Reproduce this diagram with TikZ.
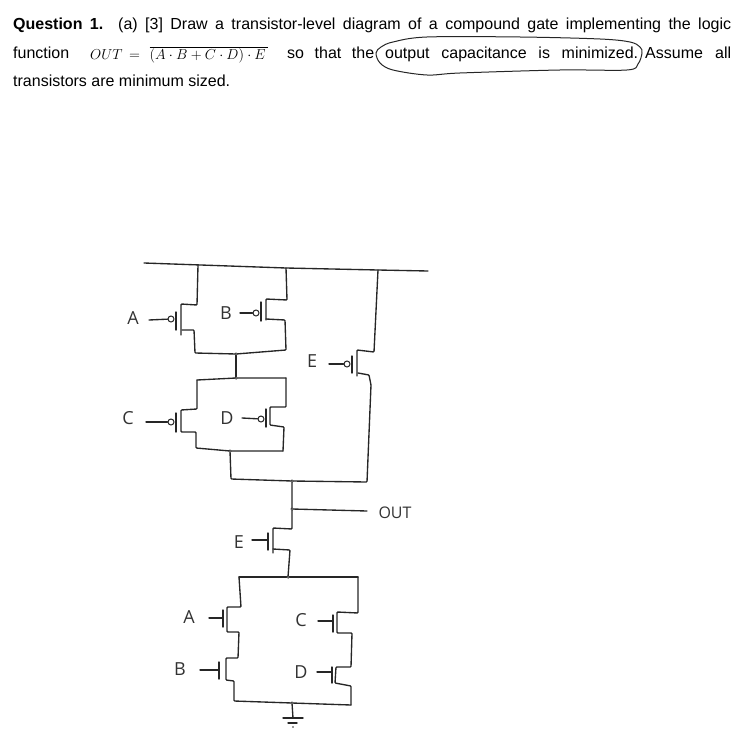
\documentclass[tikz,border=0pt]{standalone}
\usepackage{fontspec}
\setmainfont{Liberation Sans}
\setsansfont{Open Sans}
\usetikzlibrary{calc}
\tikzset{
  wire/.style={draw=black!85,line width=1.35pt,line join=round,line cap=round,rounded corners=0.8pt},
  dotnode/.style={circle,draw=black!80,fill=white,line width=0.7pt,inner sep=0pt,minimum size=3pt},
  bubble/.style={circle,draw=black!85,line width=1pt,inner sep=0pt,minimum size=6pt},
  qtext/.style={inner sep=0pt,anchor=base west,font=\fontsize{16}{18}\selectfont,text=black},
  hand/.style={inner sep=0pt,anchor=center,font=\sffamily\fontsize{18}{18}\selectfont,text=black!80}
}
\newcommand{\ptxt}[1]{\makebox[718pt][s]{#1}}
\begin{document}
\begin{tikzpicture}[x=1pt,y=-1pt]
\useasboundingbox (0,0) rectangle (737,754);
% question text
\node[qtext] (l1) at (13,30) {\ptxt{\textbf{Question 1.} (a) [3] Draw a transistor-level diagram of a compound gate implementing the logic}};
\node[qtext] (l2a) at (13,59) {function};
\node[qtext,font=\fontsize{15}{18}\selectfont] (l2b) at (90,59.5) {$OUT$};
\node[qtext,font=\fontsize{15}{18}\selectfont] (l2c) at (129,59.5) {$=$};
\node[qtext,font=\fontsize{15}{18}\selectfont] (l2d) at (149.5,59.5) {$\overline{\hbox to 118pt{$(A\cdot B+C\cdot D)\cdot E$\hss}}$};
\node[qtext] (l2e) at (287,59) {\makebox[87pt][s]{so that the}};
\node[qtext] (l2f) at (385,59) {\makebox[253pt][s]{output capacitance is minimized.}};
\node[qtext] (l2g) at (645,59) {\makebox[86pt][s]{Assume all}};
\node[qtext] (l3) at (13,87) {transistors are minimum sized.};
% circled remark
\draw[draw=black!85,line width=1pt] plot[smooth cycle,tension=0.55] coordinates {(376,53) (381,47) (393,42) (427,37) (520,37) (600,39) (630,42) (640,47) (642,53) (638,64) (627,70) (560,70) (460,73) (427,75) (393,70) (380,63)};

% junctions
\coordinate (railL) at (144,263);
\coordinate (railR) at (428,271);
\coordinate (jA) at (198,265);
\coordinate (jB) at (286,268);
\coordinate (jE) at (378,270);
\coordinate (n1) at (236,354);
\coordinate (n2) at (236,378);
\coordinate (n3) at (230,451);
\coordinate (n4) at (292,481);
\coordinate (nOut) at (292,509);
\coordinate (outEnd) at (367,511);
\coordinate (n5) at (288,577);
\coordinate (gnd) at (292,703);
\coordinate (gndEnd) at (293,718);

% power rail
\draw[wire] (railL) -- (jB) -- (jE) -- (railR);
% A pull-up
\draw[wire] (jA) -- (197,305) -- (181,304) -- (181,335);
\draw[wire] (182,330) -- (194,330) -- (195,353) -- (n1);
\draw[wire] (176,312) -- (176,330);
% B pull-up
\draw[wire] (jB) -- (287,300) -- (266,299) -- (266,320);
\draw[wire] (266,319) -- (285,320) -- (286,350) -- (n1);
\draw[wire] (261,302) -- (261,321);
\draw[wire] (n1) -- (n2);
% C, D pull-up
\draw[wire] (197,380) -- (n2) -- (286,378);
\draw[wire] (197,380) -- (197,409) -- (181,410) -- (181,432) -- (196,432) -- (196,448) -- (n3) -- (283,451);
\draw[wire] (176,413) -- (176,432);
\draw[wire] (286,378) -- (286,407) -- (270,407) -- (270,425) -- (284,427) -- (283,451);
\draw[wire] (266,409) -- (266,427);
% E pull-up
\draw[wire] (jE) -- (374,352) -- (357,350) -- (357,376);
\draw[wire] (358,373) -- (369,375) -- (371,385) -- (367,482) -- (n4) -- (231,479) -- (n3);
\draw[wire] (352,356) -- (352,373);
% output
\draw[wire] (n4) -- (nOut) -- (292,529) -- (273,528) -- (273,553);
\draw[wire] (nOut) -- (outEnd);
% E pull-down
\draw[wire] (273,549) -- (290,550) -- (n5);
\draw[wire] (268,533) -- (268,550);
% lower rail
\draw[wire] (239,577) -- (n5) -- (358,577);
% A, B pull-down
\draw[wire] (239,577) -- (241,607) -- (227,607) -- (227,632) -- (239,632) -- (238,658) -- (226,658) -- (226,680) -- (234,681) -- (234,701) -- (gnd) -- (351,705);
\draw[wire] (223,610) -- (223,627);
\draw[wire] (219,662) -- (219,679);
% C, D pull-down
\draw[wire] (358,577) -- (358,613) -- (337,612) -- (337,633) -- (352,633) -- (351,667) -- (336,667) -- (335,683) -- (351,686) -- (351,705);
\draw[wire] (333,615) -- (333,632);
\draw[wire] (332,667) -- (332,683);
% ground
\draw[wire] (gnd) -- (gndEnd);
\draw[wire] (283,718) -- (303,718);
\draw[wire] (288,723) -- (297,723);
\fill[black!80] (293,727) circle (0.8);

% junction dots
\foreach \p in {n1,n2,n3,n4,nOut,n5,gnd} \node[dotnode,minimum size=2.5pt] at (\p) {};

% p-gate bubbles, inputs, labels
\node[bubble] (bA) at (171,319) {};
\node[hand] (lA) at (133,318) {A};
\draw[wire] (149,320) -- (bA);
\node[bubble] (bB) at (256,313) {};
\node[hand] (lB) at (226,313) {B};
\draw[wire] (240,313) -- (bB);
\node[bubble] (bC) at (171,422) {};
\node[hand] (lC) at (128,418) {C};
\draw[wire] (146,422) -- (bC);
\node[bubble] (bD) at (261,419) {};
\node[hand] (lD) at (227,418) {D};
\draw[wire] (242,418) -- (bD);
\node[bubble] (bE) at (347,364) {};
\node[hand] (lE) at (312,361) {E};
\draw[wire] (329,364) -- (bE);
% outputs and n-gate labels
\node[hand,font=\sffamily\fontsize{16}{18}\selectfont] (lOut) at (395,513) {OUT};
\node[hand] (lE2) at (239,542) {E};
\coordinate (gE) at (268,540);
\draw[wire] (252,540) -- (gE);
\node[hand] (lA2) at (189,617) {A};
\coordinate (gA) at (223,618);
\draw[wire] (209,618) -- (gA);
\node[hand] (lB2) at (180,669) {B};
\coordinate (gB) at (219,670);
\draw[wire] (200,670) -- (gB);
\node[hand] (lC2) at (301,620) {C};
\coordinate (gC) at (333,621);
\draw[wire] (318,621) -- (gC);
\node[hand] (lD2) at (301,672) {D};
\coordinate (gD) at (332,672);
\draw[wire] (317,672) -- (gD);
\end{tikzpicture}
\end{document}
